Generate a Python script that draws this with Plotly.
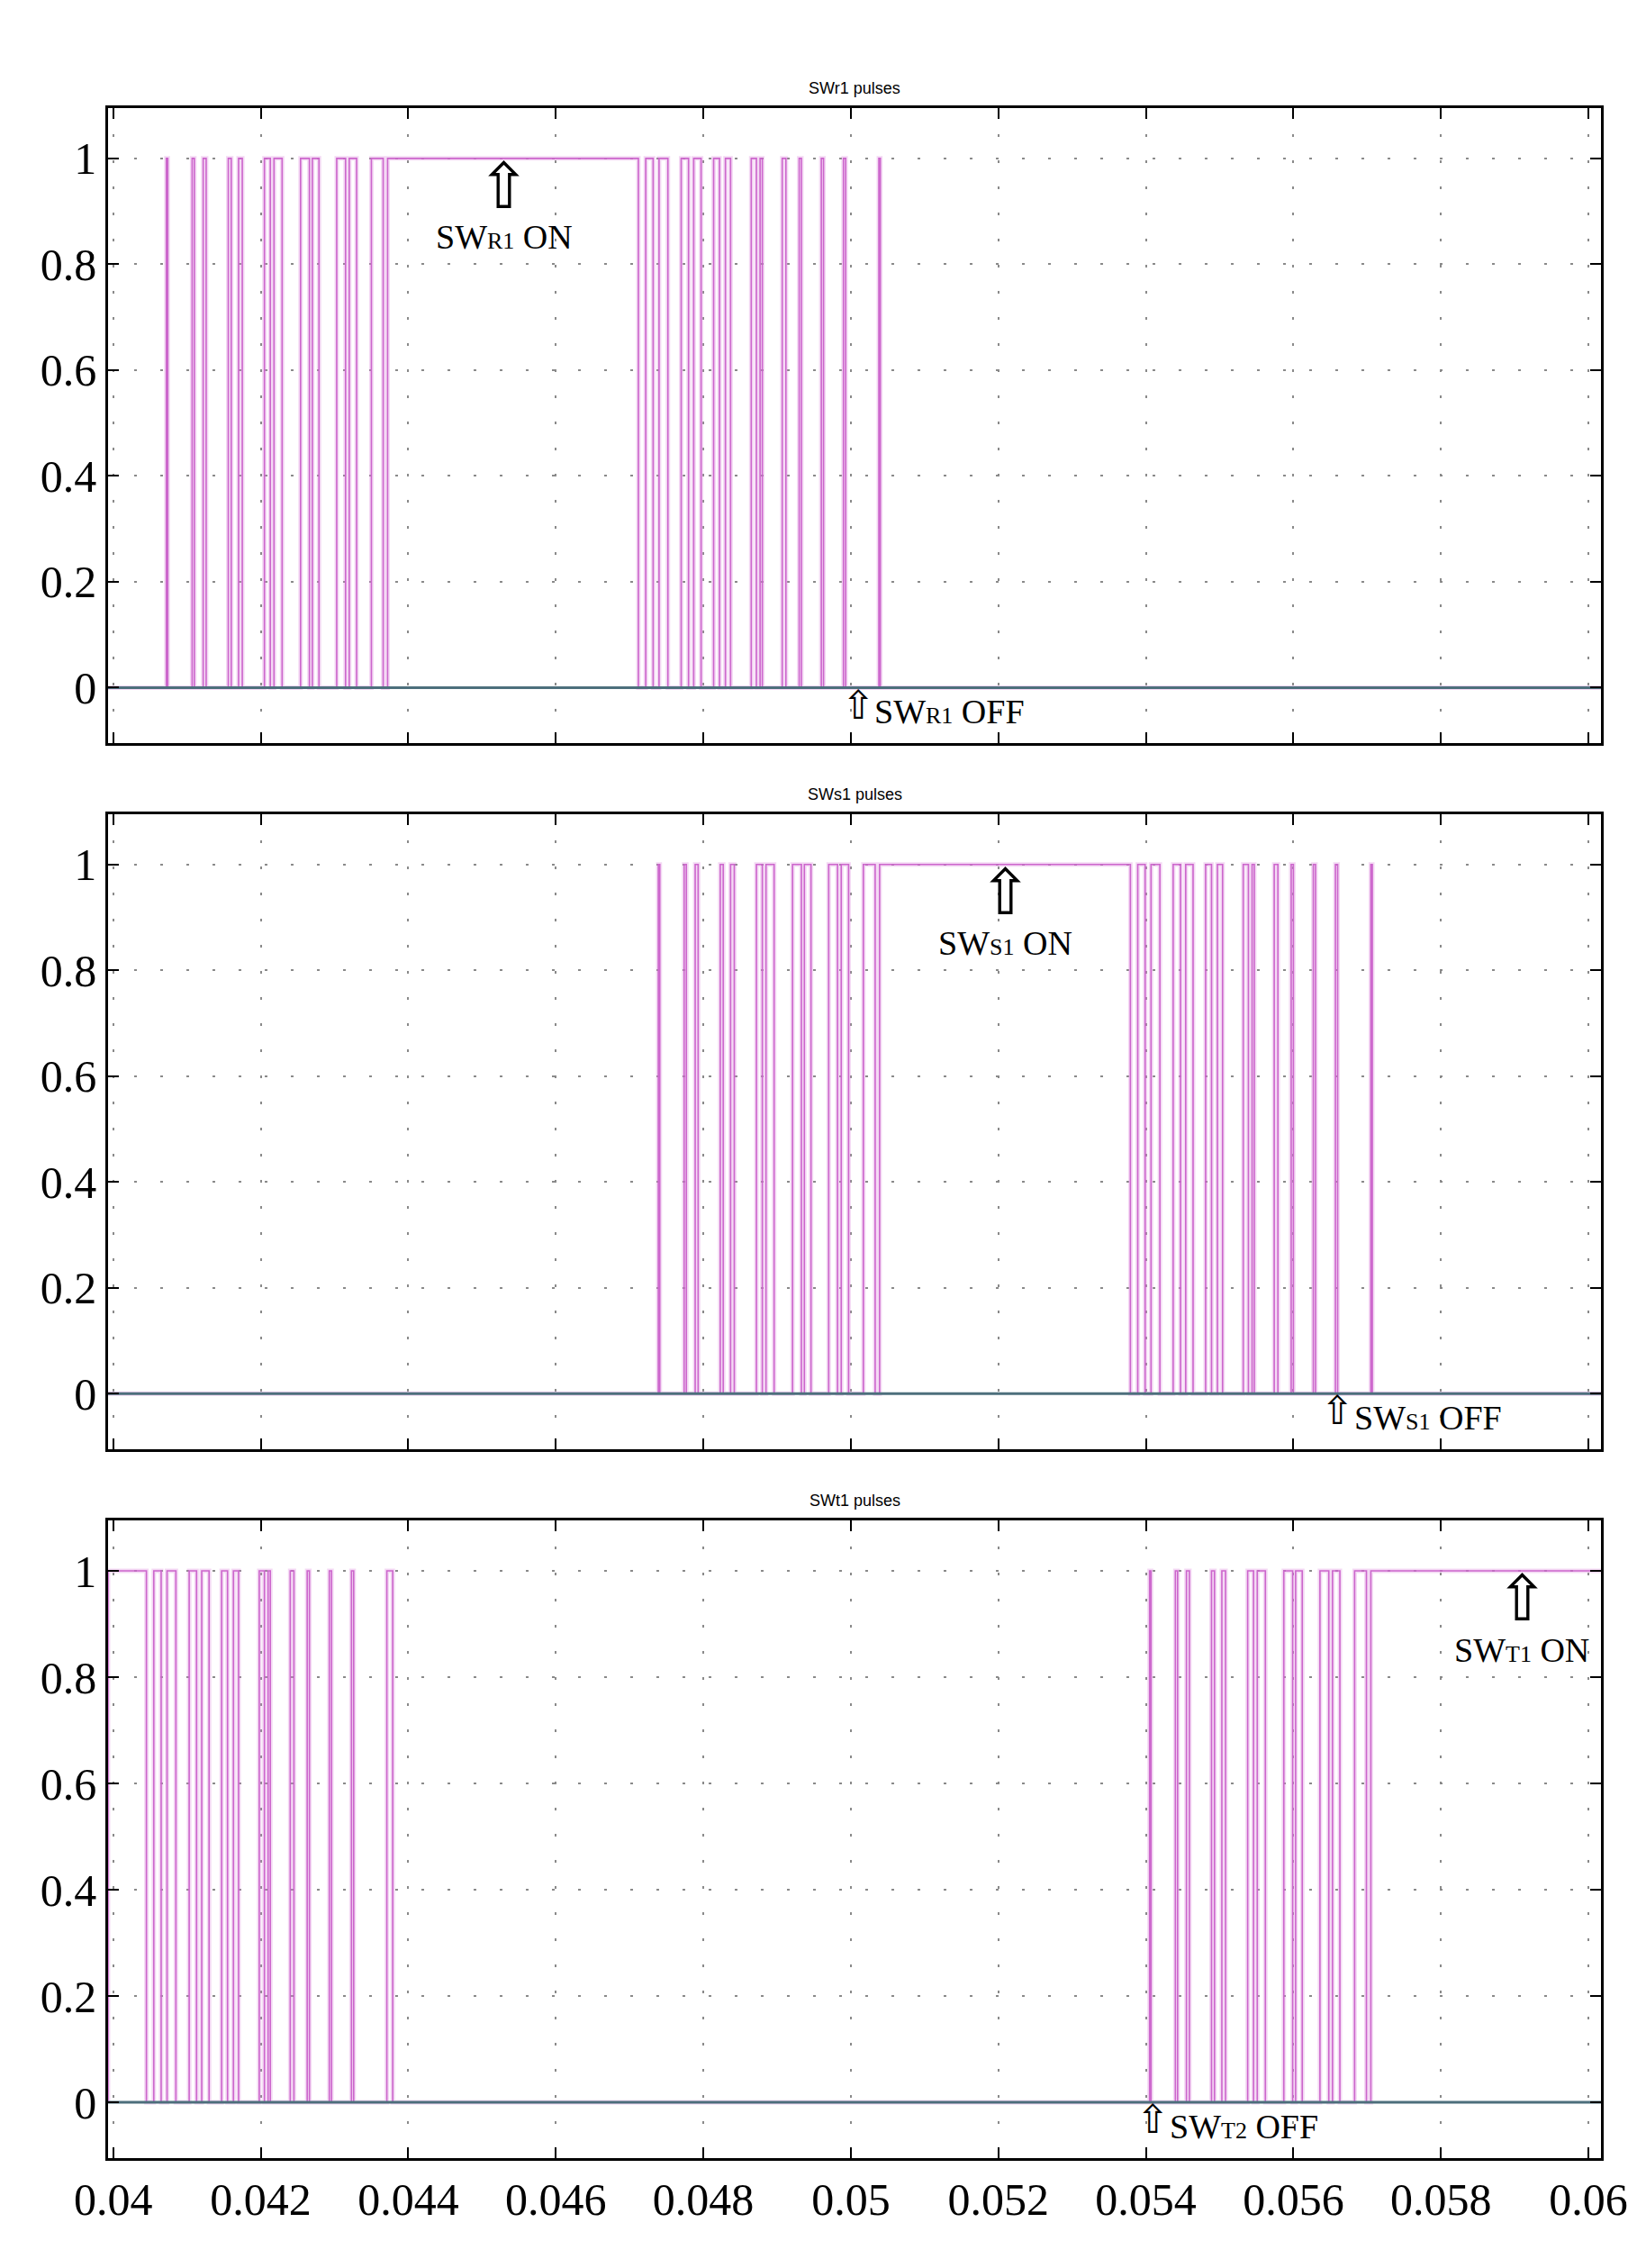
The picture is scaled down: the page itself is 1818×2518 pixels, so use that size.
import plotly.graph_objects as go

titles = ["SWr1 pulses", "SWs1 pulses", "SWt1 pulses"]

pulses_r1 = [(0.04072,0.04074),(0.04107,0.04110),(0.04122,0.04126),(0.04156,0.04160),(0.04170,0.04175),
             (0.04205,0.04213),(0.04218,0.04229),(0.04254,0.04266),(0.04270,0.04279),(0.04303,0.04315),
             (0.04320,0.04330),(0.04350,0.04366),(0.04372,0.04712),(0.04722,0.04732),(0.04740,0.04752),
             (0.04770,0.04780),(0.04787,0.04797),(0.04814,0.04822),(0.04830,0.04837),(0.04865,0.04872),
             (0.04877,0.04880),(0.04907,0.04912),(0.04930,0.04933),(0.04960,0.04963),(0.04990,0.04993),
             (0.05038,0.05040)]
pulses_s1 = [(0.04739,0.04741),(0.04774,0.04777),(0.04789,0.04793),(0.04823,0.04827),(0.04837,0.04842),
             (0.04872,0.04880),(0.04885,0.04896),(0.04921,0.04933),(0.04937,0.04946),(0.04970,0.04982),
             (0.04987,0.04997),(0.05017,0.05033),(0.05039,0.05379),(0.05389,0.05399),(0.05407,0.05419),
             (0.05437,0.05447),(0.05454,0.05464),(0.05481,0.05489),(0.05497,0.05504),(0.05532,0.05539),
             (0.05544,0.05547),(0.05574,0.05579),(0.05597,0.05600),(0.05627,0.05630),(0.05657,0.05660),
             (0.05705,0.05707)]
pulses_t1 = [(0.03990,0.04045),(0.04055,0.04065),(0.04073,0.04085),(0.04103,0.04113),(0.04120,0.04130),
             (0.04147,0.04155),(0.04163,0.04170),(0.04198,0.04205),(0.04210,0.04213),(0.04240,0.04245),
             (0.04263,0.04266),(0.04293,0.04296),(0.04323,0.04326),(0.04371,0.04379),
             (0.05405,0.05407),(0.05440,0.05443),(0.05455,0.05459),(0.05489,0.05493),(0.05503,0.05508),
             (0.05538,0.05546),(0.05551,0.05562),(0.05587,0.05599),(0.05603,0.05612),(0.05636,0.05648),
             (0.05653,0.05663),(0.05683,0.05699),(0.05705,0.06030)]
all_pulses = [pulses_r1, pulses_s1, pulses_t1]

x_ticks = [0.04, 0.042, 0.044, 0.046, 0.048, 0.05, 0.052, 0.054, 0.056, 0.058, 0.06]
x_tick_text = ["0.04", "0.042", "0.044", "0.046", "0.048", "0.05", "0.052", "0.054", "0.056", "0.058", "0.06"]
y_ticks = [0, 0.2, 0.4, 0.6, 0.8, 1]
y_tick_text = ["0", "0.2", "0.4", "0.6", "0.8", "1"]
x_range = [0.03993, 0.06017]
y_range = [-0.105, 1.095]

on_notes = [(0.0453, "SW<span style='font-size:26px'>R1</span> ON"),
            (0.0521, "SW<span style='font-size:26px'>S1</span> ON"),
            (0.0591, "SW<span style='font-size:26px'>T1</span> ON")]
off_notes = [(0.0501, "SW<span style='font-size:26px'>R1</span> OFF"),
             (0.0566, "SW<span style='font-size:26px'>S1</span> OFF"),
             (0.0541, "SW<span style='font-size:26px'>T2</span> OFF")]

fig = go.Figure()
domains = [[0.6755, 0.9555], [0.3642, 0.6442], [0.0516, 0.3328]]
pink = "#cc66cc"
serif = "Liberation Serif"

for i, pl in enumerate(all_pulses):
    xs, ys = [x_range[0]], [0]
    for s, e in pl:
        s2 = max(s, x_range[0])
        xs += [s2, s2, e, e]
        ys += [0, 1, 1, 0]
    xs.append(x_range[1]); ys.append(0)
    ax = "" if i == 0 else str(i + 1)
    fig.add_trace(go.Scatter(x=xs, y=ys, mode="lines", line=dict(color="rgba(220,130,220,0.3)", width=5),
                             xaxis="x" + ax, yaxis="y" + ax, hoverinfo="skip"))
    fig.add_trace(go.Scatter(x=xs, y=ys, mode="lines", line=dict(color=pink, width=1.6),
                             xaxis="x" + ax, yaxis="y" + ax))
    fig.add_trace(go.Scatter(x=[x_range[0], x_range[1]], y=[0, 0], mode="lines",
                             line=dict(color="#4d6f7c", width=3), xaxis="x" + ax, yaxis="y" + ax))
    common = dict(showline=True, mirror="ticks", linecolor="black", linewidth=2.5, ticks="inside",
                  ticklen=12, tickcolor="black", tickwidth=2, showgrid=True, gridcolor="#8a8a8a",
                  griddash="3px,26px", gridwidth=2, zeroline=False, automargin=False,
                  tickfont=dict(family=serif, size=50, color="black"))
    fig.layout["xaxis" + ax] = dict(common, range=x_range, domain=[0.0616, 0.9736], tickvals=x_ticks,
                                    ticktext=x_tick_text, showticklabels=(i == 2),
                                    anchor="y" + ax)
    fig.layout["yaxis" + ax] = dict(common, range=y_range, domain=domains[i], tickvals=y_ticks,
                                    ticktext=y_tick_text, anchor="x" + ax, ticklabelstandoff=0)
    fig.add_annotation(text=titles[i], x=0.5177, y=domains[i][1] + 0.004, xref="paper", yref="paper",
                       xanchor="center", yanchor="bottom", showarrow=False,
                       font=dict(family="Liberation Sans", size=18, color="black"))
    xo, t = on_notes[i]
    fig.add_annotation(text="⇧", x=xo, y=1.02, xref="x" + ax, yref="y" + ax, yanchor="top",
                       showarrow=False, font=dict(family="DejaVu Sans", size=70, color="black"))
    fig.add_annotation(text=t, x=xo, y=0.89, xref="x" + ax, yref="y" + ax, yanchor="top",
                       showarrow=False, font=dict(family=serif, size=38, color="black"))
    xf, t = off_notes[i]
    fig.add_annotation(text="⇧", x=xf, y=0.015, xref="x" + ax, yref="y" + ax, yanchor="top",
                       showarrow=False, font=dict(family="DejaVu Sans", size=44, color="black"))
    fig.add_annotation(text=t, x=xf + 0.0002, y=-0.045, xref="x" + ax, yref="y" + ax, xanchor="left",
                       yanchor="middle", showarrow=False, font=dict(family=serif, size=38, color="black"))

fig.update_layout(width=1818, height=2518, showlegend=False, plot_bgcolor="white", paper_bgcolor="white",
                  margin=dict(l=0, r=0, t=0, b=0))
fig.write_html("out.html")
